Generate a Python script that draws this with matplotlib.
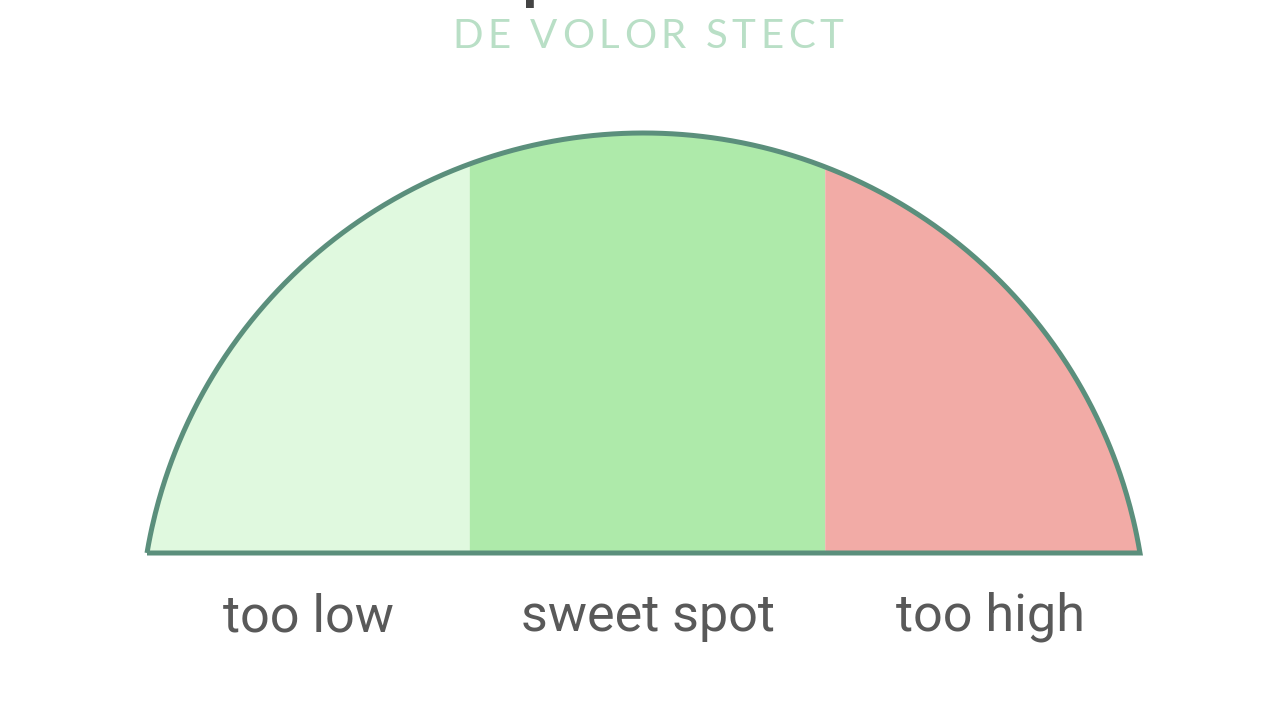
#Grafica de zonas: too low / sweet spot / too high
import matplotlib
matplotlib.use("Agg")
import matplotlib.pyplot as plt #para graficar
import numpy as np #para operaciones matematicas
from matplotlib.patches import Polygon

#datos de las zonas (escala 0-100 a lo ancho de la cupula)
zonas = ["too low", "sweet spot", "too high"]
bordes = [0, 32.5, 68.3, 100]
colores = ["#e0f9df", "#aeeaaa", "#f2aba6"]
titulo = "DE VOLOR STECT"

#geometria de la cupula en pixeles
x0, x1 = 147, 1140 #extremos de la base
y_base = 553
y_top = 133
xc = (x0 + x1) / 2
semi = (x1 - x0) / 2
h = y_base - y_top
R = (semi**2 + h**2) / (2 * h) #radio del circulo
yc = y_top + R #centro del circulo (debajo de la base)

def borde_sup(x):
    return yc - np.sqrt(R**2 - (x - xc)**2)

def a_pix(v):
    return x0 + (x1 - x0) * v / 100

fig = plt.figure(figsize=(12.8, 7.2), dpi=100)
ax = fig.add_axes([0, 0, 1, 1])
ax.set_xlim(0, 1280)
ax.set_ylim(720, 0)
ax.axis("off")

#rellenar cada zona
desplaz = [0, 0, 8] #pequeño ajuste horizontal de las etiquetas
for i, nombre in enumerate(zonas):
    xa, xb = a_pix(bordes[i]), a_pix(bordes[i + 1])
    xs = np.linspace(xa, xb, 200)
    ys = borde_sup(xs)
    pts = np.column_stack([np.r_[xs, xb, xa], np.r_[ys, y_base, y_base]])
    ax.add_patch(Polygon(pts, closed=True, facecolor=colores[i], edgecolor="none"))
    ax.text((xa + xb) / 2 + desplaz[i], 617, nombre, ha="center", va="center",
            fontsize=37.5, color="#595959", family="Roboto")

#contorno de la cupula
xs = np.linspace(x0, x1, 600)
ax.plot(np.r_[xs, x0], np.r_[borde_sup(xs), y_base], color="#5b8f7c", lw=3.6,
        solid_joinstyle="miter", solid_capstyle="butt")

#titulo (recortado arriba)
ax.text(539, -3, "p", ha="center", va="baseline", fontsize=40, color="#444444",
        family="Roboto", fontweight="bold")

#subtitulo con espaciado entre letras
renderer = fig.canvas.get_renderer()
espacio = 4.6 #pixeles extra entre letras
x_letra = 452
for letra in titulo:
    t = ax.text(x_letra, 48, letra, ha="left", va="baseline", fontsize=29,
                color="#b9dfc6", family="Lato")
    ancho = t.get_window_extent(renderer).width
    if letra == " ":
        ancho = 29 * 100 / 72 * 0.26
    x_letra += ancho + espacio

fig.savefig("out.png", dpi=100)
